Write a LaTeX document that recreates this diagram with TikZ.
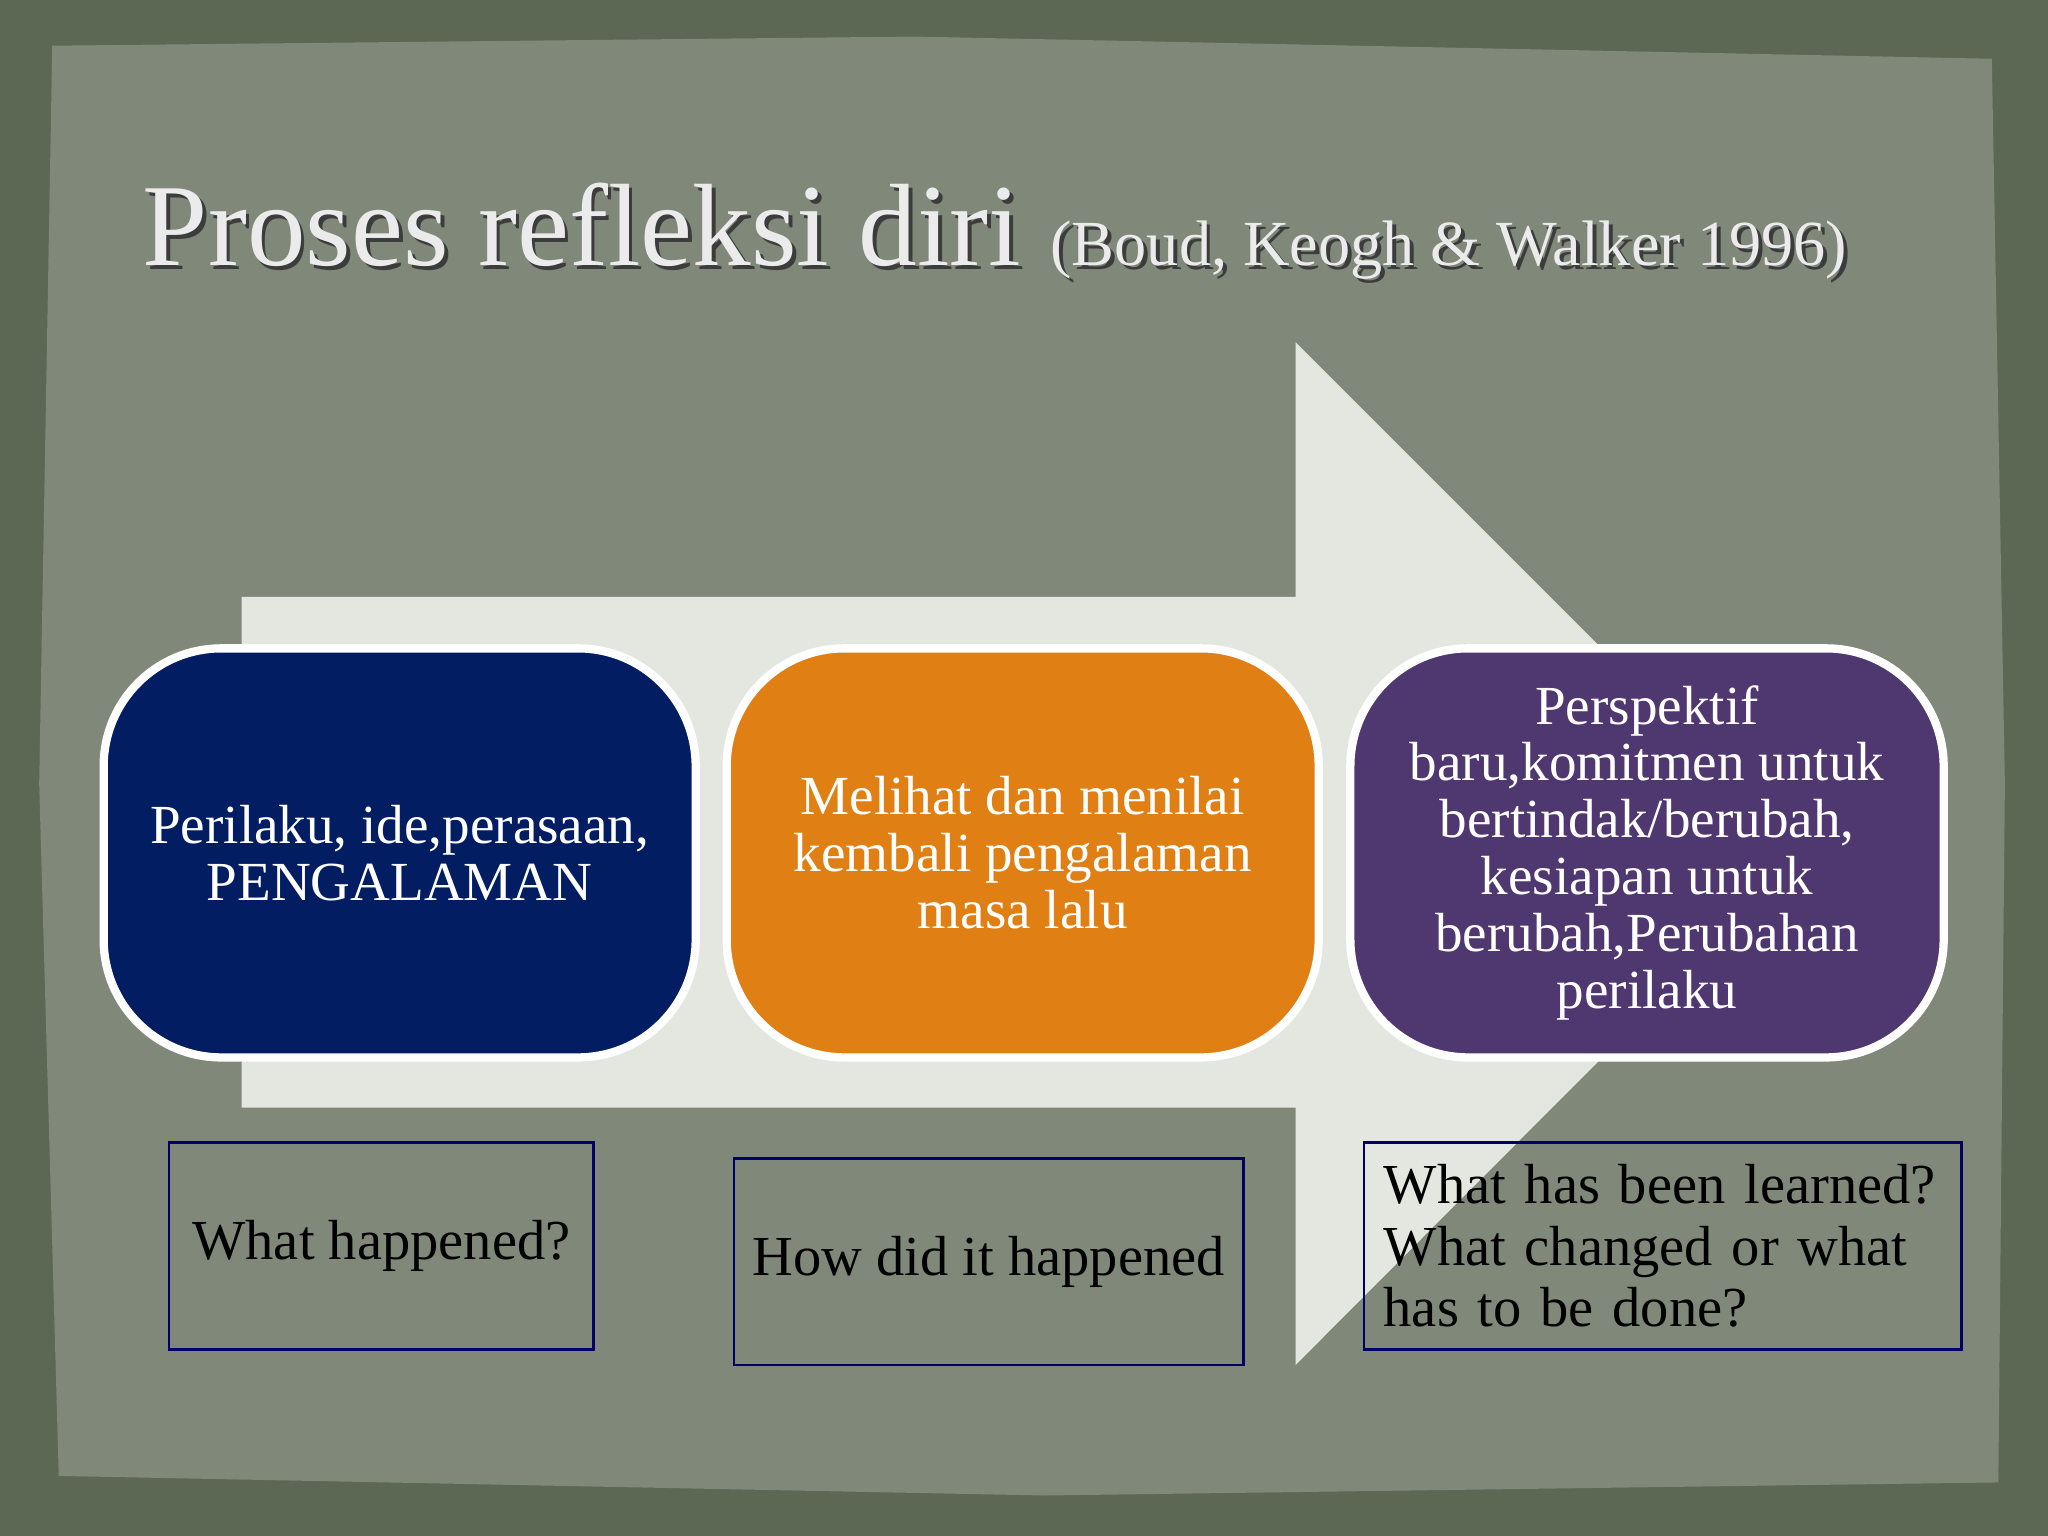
\documentclass[tikz,border=0pt]{standalone}
\usepackage{fontspec}
\setmainfont{Liberation Serif}
\begin{document}
\begin{tikzpicture}[x=0.01cm,y=-0.01cm,
  bigbox/.style={draw=white,line width=1.8pt,rounded corners=0.9cm,text=white,align=center,font=\fontsize{12}{12.4}\selectfont,inner sep=0pt},
  qbox/.style={draw=blue!40!black,line width=0.6pt,align=left,text=black,font=\fontsize{12.3}{13.4}\selectfont,inner sep=0pt}]
\fill[fill={rgb,255:red,92;green,104;blue,84}] (0,0) rectangle (1568,1176);
\useasboundingbox (0,0) rectangle (1568,1176);
\fill[fill={rgb,255:red,128;green,136;blue,122}] (40,35) -- (700,28) -- (1525,45) -- (1535,600) -- (1530,1135) -- (800,1145) -- (45,1130) -- (30,600) -- cycle;
% title
\node[anchor=base west,text={rgb,255:red,60;green,60;blue,60},font=\fontsize{25.5}{28}\selectfont] at (100,206) {Proses refleksi diri \fontsize{14}{15}\selectfont (Boud, Keogh \& Walker 1996)};
\node[anchor=base west,text={rgb,255:red,235;green,235;blue,235},font=\fontsize{25.5}{28}\selectfont] (title) at (97,203) {Proses refleksi diri \fontsize{14}{15}\selectfont (Boud, Keogh \& Walker 1996)};
% arrow
\fill[fill={rgb,255:red,228;green,230;blue,224}] (185,457) -- (992,457) -- (992,262) -- (1383,653) -- (992,1045) -- (992,848) -- (185,848) -- cycle;
\node[bigbox,fill={rgb,255:red,2;green,29;blue,98},minimum width=4.53cm,minimum height=3.13cm] (b1) at (306,653) {Perilaku, ide,perasaan,\\PENGALAMAN};
\node[bigbox,fill={rgb,255:red,224;green,127;blue,20},minimum width=4.53cm,minimum height=3.13cm] (b2) at (783,653) {Melihat dan menilai\\kembali pengalaman\\masa lalu};
\node[bigbox,fill={rgb,255:red,79;green,55;blue,111},minimum width=4.54cm,minimum height=3.13cm] (b3) at (1261,653) {Perspektif\\baru,komitmen untuk\\bertindak/berubah,\\kesiapan untuk\\berubah,Perubahan\\perilaku};
\node[qbox,minimum width=3.25cm,minimum height=1.58cm,align=center] (q1) at (292,954) {What happened?};
\node[qbox,minimum width=3.9cm,minimum height=1.58cm,align=center] (q2) at (757,966) {How did it happened};
\node[qbox,minimum width=4.57cm,minimum height=1.58cm,text width=4.27cm] (q3) at (1273,954) {What has been learned?\\What changed or what\\has to be done?};
\end{tikzpicture}
\end{document}
